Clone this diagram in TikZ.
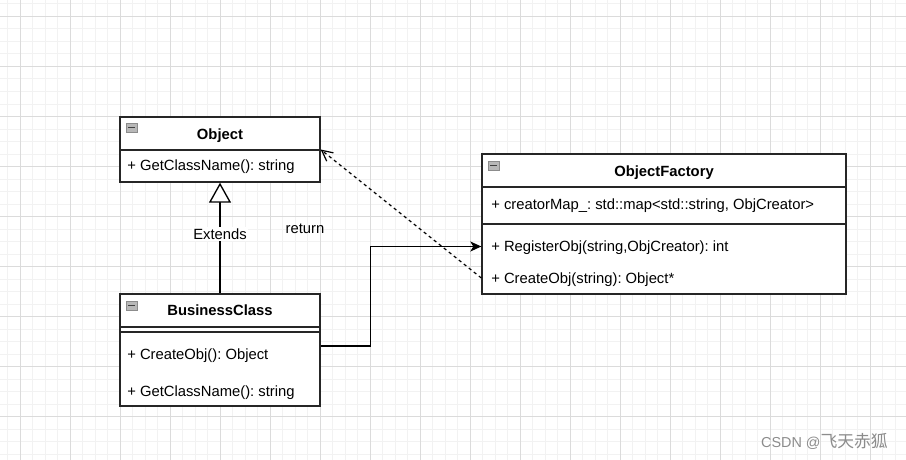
\documentclass[tikz,border=0pt]{standalone}
\usepackage{fontspec}
\setmainfont{Liberation Sans}
\newfontfamily\cjk{Noto Sans CJK SC}
\usetikzlibrary{arrows.meta}
\frenchspacing
\begin{document}
\begin{tikzpicture}[x=0.75pt,y=-0.75pt,
  box/.style={draw=black!85, line width=1pt, inner sep=0pt, fill=white},
  txt/.style={font=\fontsize{11.1}{13}\selectfont, inner sep=0pt, text height=8pt, text depth=0pt, anchor=west},
  ttl/.style={font=\fontsize{11.1}{13}\selectfont\bfseries, inner sep=0pt, text height=8pt, text depth=0pt},
  sepline/.style={draw=black!85, line width=1pt},
  conn/.style={line width=1pt, black},
  minorgrid/.style={black!5, line width=0.75pt},
  majorgrid/.style={black!14, line width=0.75pt},
  minusicon/.pic={
    \draw[draw=black!45, fill=black!28, line width=0.6pt] (0,0) rectangle (11,9);
    \draw[black!75, line width=1.1pt] (2,4.5) -- (9,4.5);
  }
]
\useasboundingbox (0,0) rectangle (906,460);
\fill[white] (0,0) rectangle (906,460);
% grid
\foreach \i in {0,...,72} \draw[minorgrid] (7.5+12.5*\i,0) -- (7.5+12.5*\i,460);
\foreach \i in {0,...,37} \draw[minorgrid] (0,4+12.5*\i) -- (906,4+12.5*\i);
\foreach \i in {0,...,17} \draw[majorgrid] (20+50*\i,0) -- (20+50*\i,460);
\foreach \i in {0,...,8} \draw[majorgrid] (0,16.5+50*\i) -- (906,16.5+50*\i);

% Object
\node[box, minimum width=150pt, minimum height=48.75pt] (obj) at (220,149.5) {};
\draw[sepline] (obj.west |- 0,150) -- (obj.east |- 0,150);
\pic at (126,123) {minusicon};
\node[ttl] (objt) at (220,134) {Object};
\node[txt] (obja) at (127,165.5) {+ GetClassName(): string};

% BusinessClass
\node[box, minimum width=150pt, minimum height=84pt] (bc) at (220,350) {};
\draw[sepline] (bc.west |- 0,327) -- (bc.east |- 0,327);
\draw[sepline] (bc.west |- 0,332) -- (bc.east |- 0,332);
\pic at (126,301) {minusicon};
\node[ttl] (bct) at (220,310.5) {BusinessClass};
\node[txt] (bcm1) at (127,354) {+ CreateObj(): Object};
\node[txt] (bcm2) at (127,391) {+ GetClassName(): string};

% ObjectFactory
\node[box, minimum width=273pt, minimum height=105pt] (of) at (664,224) {};
\draw[sepline] (of.west |- 0,187) -- (of.east |- 0,187);
\draw[sepline] (of.west |- 0,224) -- (of.east |- 0,224);
\pic at (488,161) {minusicon};
\node[ttl] (oft) at (664,171) {ObjectFactory};
\node[txt] (ofa) at (491,204) {+ creatorMap\_: std::map<std::string, ObjCreator>};
\node[txt] (reg) at (491,246.5) {+ RegisterObj(string,ObjCreator): int};
\node[txt] (co) at (491,278) {+ CreateObj(string): Object*};

% connectors
\draw[conn, -{Triangle[open, fill=white, length=15pt, width=16.5pt, line width=1pt]}]
  (bc.north) -- node[pos=0.536, fill=white, inner sep=1pt, font=\fontsize{11.1}{13}\selectfont] (ext) {Extends} (obj.south);
\draw[conn, -{Stealth[length=8.25pt, width=7.5pt, inset=2.2pt]}]
  ([yshift=3pt]bc.east) -- ++(50,0) |- (of.west |- reg);
\draw[conn, line width=0.9pt, dash pattern=on 2.4pt off 2.4pt, -{Straight Barb[length=8pt, width=8pt, line width=0.9pt]}]
  (of.west |- co) -- (obj.east);
\node[inner sep=0pt, font=\fontsize{11.1}{13}\selectfont] (ret) at (305,229) {return};

% watermark
\node[anchor=east, text=black!45, inner sep=0pt] (wm) at (888,441)
  {\fontsize{10.8}{13}\selectfont CSDN @{\cjk\fontsize{12.6}{14}\selectfont 飞天赤狐}};
\end{tikzpicture}
\end{document}
